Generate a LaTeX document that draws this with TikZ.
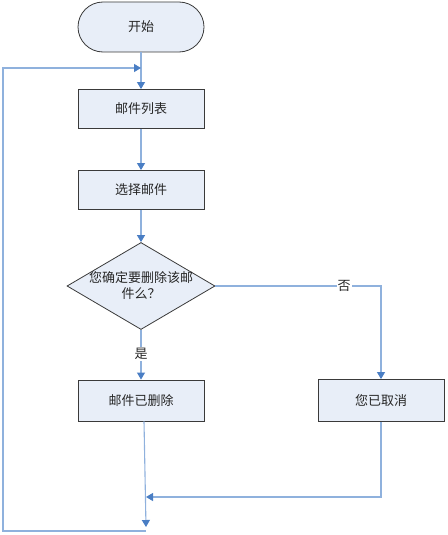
\documentclass[tikz,border=0pt]{standalone}
\usepackage{fontspec}
\newfontfamily\cjk{Noto Sans CJK SC}
\usetikzlibrary{arrows.meta,shapes.geometric}
\definecolor{lineblue}{HTML}{8FB1DD}
\definecolor{tipblue}{HTML}{4A7EC4}
\definecolor{boxfill}{HTML}{E8EEF8}
\definecolor{boxdraw}{HTML}{3A3A3A}
\begin{document}
\begin{tikzpicture}[x=1pt,y=-1pt,
  every node/.style={font=\cjk\fontsize{13}{16}\selectfont, text=black!85},
  terminal/.style={draw=boxdraw, fill=boxfill, line width=0.8pt, rounded corners=25pt, minimum width=126pt, minimum height=50pt, inner sep=0pt},
  procbox/.style={draw=boxdraw, fill=boxfill, line width=0.9pt, minimum width=126pt, minimum height=39pt, inner sep=0pt},
  decision/.style={draw=boxdraw, fill=boxfill, line width=0.8pt, diamond, minimum width=148pt, minimum height=87pt, inner sep=0pt},
  flow/.style={draw=lineblue, line width=1.1pt, -{Triangle[length=7pt,width=8pt,color=tipblue]}},
  edgelabel/.style={fill=white, inner sep=1pt}
]
\useasboundingbox (0,0) rectangle (447,535);
\node[terminal] (start) at (141,27) {开始};
\node[procbox] (list) at (141,109) {邮件列表};
\node[procbox] (select) at (141,190) {选择邮件};
\node[decision] (q) at (141,286) {};
\node[align=center, inner sep=0pt] (qt) at (141,286) {您确定要删除该邮\\件么？};
\node[procbox, minimum height=41pt] (deleted) at (141,400.5) {邮件已删除};
\node[procbox, minimum height=42pt] (cancel) at (381,400.5) {您已取消};
\coordinate (loopin) at (141,68);
\coordinate (c1) at (381,286);
\coordinate (c2) at (381,497);
\coordinate (join) at (146,497);
\coordinate (bottom) at (146,527);
\coordinate (b1) at (146,531);
\coordinate (b2) at (3,531);
\coordinate (b3) at (3,68);

\draw[flow] (start.south) -- (list.north);
\draw[flow] (list.south) -- (select.north);
\draw[flow] (select.south) -- (q.north);
\draw[flow] (q.east) -- (c1) -- (cancel.north);
\node[edgelabel] (no) at (344,286) {否};
\draw[flow] (q.south) -- (deleted.north);
\node[edgelabel] (yes) at (141,354) {是};
\draw[flow] (cancel.south) -- (c2) -- (join);
\draw[flow] ([xshift=3pt]deleted.south) -- (bottom);
\draw[flow] (b1) -- (b2) -- (b3) -- (loopin);
\end{tikzpicture}
\end{document}
